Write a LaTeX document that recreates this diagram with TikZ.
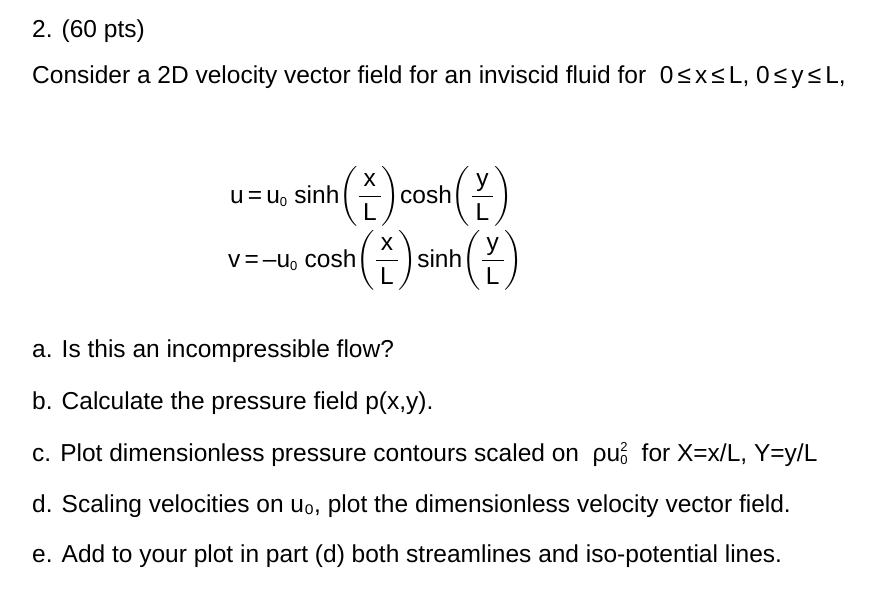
\documentclass[tikz,border=0pt]{standalone}
\usepackage{amsmath}
\usepackage{fontspec}
\setmainfont{Liberation Sans}
\newcommand{\fr}[2]{\dfrac{\mbox{\rule[-1pt]{0pt}{17pt}\,#1\,}}{\mbox{\rule{0pt}{17pt}\,#2\,}}}
\newcommand{\sbz}{$_{\mbox{\fontsize{13}{14}\selectfont 0}}$}
\begin{document}
\begin{tikzpicture}[x=1pt,y=-1pt,txt/.style={anchor=base west,inner sep=0pt,font=\fontsize{24.5}{27}\selectfont}]
\useasboundingbox (0,0) rectangle (890,613);
\node[txt] (t1) at (32,37) {2. (60 pts)};
\node[txt] (t2) at (32,83) {Consider a 2D velocity vector field for an inviscid fluid for\ \ 0\,≤\,x\,≤\,L, 0\,≤\,y\,≤\,L,};
\node[txt] (eu) at (230,203) {u\,=\,u\sbz\ sinh$\left(\fr{x}{L}\right)$cosh$\left(\fr{y}{L}\right)$};
\node[txt] (ev) at (228,267) {v\,=\,–u\sbz\ cosh$\left(\fr{x}{L}\right)$sinh$\left(\fr{y}{L}\right)$};
\node[txt] (a) at (32,357) {a. Is this an incompressible flow?};
\node[txt] (b) at (32,409) {b. Calculate the pressure field p(x,y).};
\node[txt] (c) at (32,461) {c. Plot dimensionless pressure contours scaled on\ \ ρu\rlap{$^{\mbox{\fontsize{13}{14}\selectfont 2}}$}$_{\mbox{\fontsize{13}{14}\selectfont 0}}$\ \ for X=x/L, Y=y/L};
\node[txt] (d) at (32,512) {d. Scaling velocities on u₀, plot the dimensionless velocity vector field.};
\node[txt] (e) at (32,562) {e. Add to your plot in part (d) both streamlines and iso-potential lines.};
\end{tikzpicture}
\end{document}
